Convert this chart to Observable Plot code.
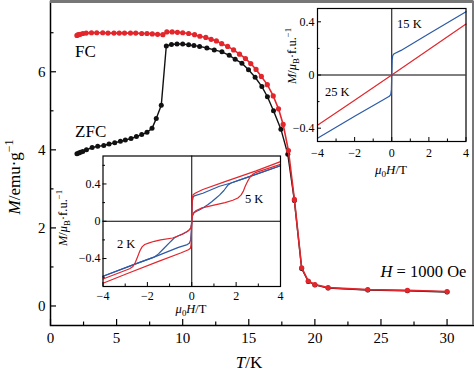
<!DOCTYPE html>
<html><head><meta charset="utf-8">
<script src="https://cdn.jsdelivr.net/npm/d3@7"></script>
<script src="https://cdn.jsdelivr.net/npm/@observablehq/plot@0.6"></script>
<style>
body{margin:0;background:#fff}
#wrap{position:relative;width:474px;height:372px;overflow:hidden;background:#fff}
#wrap svg{position:absolute;left:0;top:0}
</style></head><body><div id="wrap"></div>
<script>
// ---- Main chart data: M (emu/g) vs T (K), H = 1000 Oe
const FC_T = [2.0, 2.1, 2.25, 2.45, 2.7, 3.1, 3.5, 3.95, 4.35, 4.8, 5.2, 5.6, 6.05, 6.45, 6.9, 7.3, 7.7, 8.1, 8.5, 8.8, 9.2, 9.6, 10.0, 10.45, 10.9, 11.3, 11.75, 12.15, 12.55, 12.95, 13.4, 13.85, 14.3, 14.75, 15.15, 15.55, 15.95, 16.4, 16.85, 17.25, 17.6, 18.0, 18.45, 19.0, 19.5, 20.0, 21.0, 24.0, 27.0, 30.0];
const FC_M = [6.93, 6.95, 6.96, 6.98, 6.99, 7.0, 7.0, 7.0, 6.99, 6.99, 6.99, 6.99, 6.99, 6.99, 6.98, 6.98, 6.97, 6.96, 6.95, 7.02, 7.02, 7.01, 7.0, 6.98, 6.95, 6.91, 6.88, 6.83, 6.79, 6.72, 6.65, 6.56, 6.45, 6.34, 6.21, 6.06, 5.88, 5.67, 5.38, 5.05, 4.65, 3.98, 2.73, 0.98, 0.64, 0.55, 0.47, 0.42, 0.40, 0.37];
const ZFC_T = [2.0, 2.14, 2.27, 2.44, 2.72, 3.15, 3.57, 4.03, 4.43, 4.86, 5.29, 5.66, 6.09, 6.5, 6.9, 7.3, 7.68, 8.0, 8.38, 8.76, 9.15, 9.57, 10.0, 10.45, 10.85, 11.28, 11.83, 12.39, 12.97, 13.52, 13.97, 14.48, 14.98, 15.48, 15.99, 16.41, 16.87, 17.43, 17.95, 18.45, 19.0, 19.5, 20.0, 21.0, 24.0, 27.0, 30.0];
const ZFC_M = [3.90, 3.92, 3.94, 3.96, 4.0, 4.06, 4.09, 4.11, 4.15, 4.18, 4.22, 4.25, 4.29, 4.34, 4.39, 4.45, 4.55, 4.80, 5.14, 6.66, 6.70, 6.71, 6.71, 6.69, 6.67, 6.65, 6.61, 6.56, 6.51, 6.42, 6.32, 6.22, 6.05, 5.86, 5.62, 5.36, 5.0, 4.53, 3.89, 2.70, 0.96, 0.63, 0.54, 0.46, 0.41, 0.39, 0.36];
const mainXTicks = [0, 5, 10, 15, 20, 25, 30];
const mainXMinor = [2.5, 7.5, 12.5, 17.5, 22.5, 27.5];
const mainYTicks = [0, 2, 4, 6];
const mainYMinor = [1, 3, 5, 7];

// ---- Inset 1 (top right): 15 K and 25 K loops, M (muB/f.u.) vs mu0H (T)
const L15_H = [-4, -2, -0.5, -0.13, -0.05, -0.02, 0, 0.02, 0.05, 0.13, 0.5, 2, 4];
const L15_M = [-0.476, -0.31, -0.19, -0.16, -0.145, -0.11, 0, 0.11, 0.145, 0.16, 0.185, 0.31, 0.476];
const L25_H = [-4, -2, 0, 2, 4];
const L25_M = [-0.378, -0.19, 0, 0.192, 0.383];

// ---- Inset 2 (bottom left): 2 K (red) and 5 K (blue) hysteresis loops
const L2_DOWN_H = [4, 2.9, 1.5, 0.5, 0.15, 0.06, 0.03, 0.01, -0.01, -0.04, -0.1, -0.2, -0.42, -0.86, -1.4, -1.69, -1.95, -2.12, -2.24, -2.34, -2.44, -2.54, -2.65, -2.8, -4];
const L2_DOWN_M = [0.64, 0.54, 0.425, 0.34, 0.30, 0.285, 0.25, 0.1, -0.03, -0.07, -0.09, -0.11, -0.14, -0.18, -0.2, -0.215, -0.235, -0.25, -0.275, -0.32, -0.38, -0.44, -0.485, -0.51, -0.62];
const L2_UP_H = [-4, -2.9, -1.5, -0.5, -0.15, -0.06, -0.03, -0.01, 0.01, 0.04, 0.1, 0.2, 0.42, 0.95, 1.5, 1.85, 2.08, 2.22, 2.32, 2.42, 2.52, 2.62, 2.75, 2.9, 4];
const L2_UP_M = [-0.665, -0.56, -0.43, -0.34, -0.305, -0.29, -0.25, -0.1, 0.03, 0.07, 0.095, 0.115, 0.14, 0.17, 0.2, 0.225, 0.25, 0.28, 0.32, 0.38, 0.43, 0.47, 0.505, 0.525, 0.61];
const L5_DOWN_H = [4, 2.5, 1.77, 1.25, 0.5, 0.15, 0.07, 0.03, 0.01, -0.01, -0.04, -0.1, -0.2, -0.4, -0.6, -0.79, -1.0, -1.25, -1.5, -1.7, -2.5, -4];
const L5_DOWN_M = [0.595, 0.47, 0.41, 0.375, 0.30, 0.275, 0.265, 0.22, 0.1, -0.03, -0.07, -0.09, -0.11, -0.135, -0.155, -0.18, -0.23, -0.29, -0.35, -0.385, -0.455, -0.59];
const L5_UP_H = [-4, -2.5, -1.7, -0.6, -0.2, -0.11, -0.05, -0.02, 0, 0.02, 0.1, 0.2, 0.34, 0.55, 0.72, 0.9, 1.1, 1.25, 1.45, 1.62, 1.77, 2.5, 4];
const L5_UP_M = [-0.59, -0.455, -0.385, -0.28, -0.25, -0.235, -0.2, -0.1, 0, 0.05, 0.09, 0.105, 0.12, 0.15, 0.176, 0.21, 0.25, 0.28, 0.33, 0.385, 0.41, 0.47, 0.595];
const insetXTicks = [-4, -2, 0, 2, 4];
const insetXMinor = [-3, -1, 1, 3];
const inset1YTicks = [-0.4, 0, 0.4];
const inset1YMinor = [-0.2, 0.2];
const inset2YTicks = [-0.4, 0, 0.4];
const inset2YMinor = [-0.6, -0.2, 0.2, 0.6];

const RED = "#e2262c", BLUE = "#2c5aa6", BLACK = "#111";
const FONT = "'Liberation Serif','DejaVu Serif',serif";
const W = 474, H = 372;
const wrap = document.getElementById("wrap");

const rows = (xs, ys, extra = {}) => xs.map((x, i) => ({x, y: ys[i], ...extra}));
const fmt = d => (d < 0 ? "\u2212" : "") + Math.abs(d);

function tickMarks(xd, yd, pw, ph, xMaj, xMin, yMaj, yMin, lMaj, lMin, sw) {
  const ux = (xd[1] - xd[0]) / pw, uy = (yd[1] - yd[0]) / ph;
  const o = {stroke: "black", strokeWidth: sw};
  return [
    Plot.ruleX(xMaj, {x: d => d, y1: yd[0], y2: yd[0] + lMaj * uy, ...o}),
    Plot.ruleX(xMin, {x: d => d, y1: yd[0], y2: yd[0] + lMin * uy, ...o}),
    Plot.ruleY(yMaj, {y: d => d, x1: xd[0], x2: xd[0] + lMaj * ux, ...o}),
    Plot.ruleY(yMin, {y: d => d, x1: xd[0], x2: xd[0] + lMin * ux, ...o})
  ];
}

function scaler(m, xd, yd) {
  const pw = W - m.l - m.r, ph = H - m.t - m.b;
  return {
    x: v => m.l + (v - xd[0]) / (xd[1] - xd[0]) * pw,
    y: v => m.t + (yd[1] - v) / (yd[1] - yd[0]) * ph,
    pw, ph
  };
}

function rich(svg, parts, {x, y, size = 15, anchor = "start", rotate = 0}) {
  const t = svg.append("text")
    .attr("font-family", FONT).attr("font-size", size)
    .attr("text-anchor", anchor).attr("fill", "black")
    .attr("transform", `translate(${x},${y})` + (rotate ? ` rotate(${rotate})` : ""));
  let cur = 0;
  for (const [s, k = ""] of parts) {
    const sp = t.append("tspan").text(s);
    const flags = k.split(" ");
    let target = 0;
    if (flags.includes("sup")) target = -0.42 * size;
    if (flags.includes("sub")) target = 0.25 * size;
    if (target !== 0) sp.attr("font-size", size * 0.7);
    if (flags.includes("i")) sp.attr("font-style", "italic");
    if (target !== cur) { sp.attr("dy", target - cur); cur = target; }
  }
}

// ================= MAIN =================
const mM = {l: 50, r: 1, t: 1, b: 47};
const mX = [0, 32], mY = [-0.5, 7.8];
const ms = scaler(mM, mX, mY);
const fc = rows(FC_T, FC_M), zfc = rows(ZFC_T, ZFC_M);

const main = Plot.plot({
  width: W, height: H,
  marginLeft: mM.l, marginRight: mM.r, marginTop: mM.t, marginBottom: mM.b,
  style: {background: "transparent", fontFamily: FONT, fontSize: "15px", color: "black"},
  x: {domain: mX, ticks: mainXTicks, tickSize: 0, tickPadding: 6.5, label: null, tickFormat: fmt},
  y: {domain: mY, ticks: mainYTicks, tickSize: 0, tickPadding: 5, label: null, tickFormat: fmt},
  marks: [
    ...tickMarks(mX, mY, ms.pw, ms.ph, mainXTicks, mainXMinor, mainYTicks, mainYMinor, 6, 3.5, 1.2),
    Plot.frame({stroke: "black", strokeWidth: 1.5}),
    Plot.ruleY([mY[1]], {stroke: "#777", strokeWidth: 3}),
    Plot.ruleX([mX[1]], {stroke: "#777", strokeWidth: 3}),
    Plot.line(zfc, {x: "x", y: "y", stroke: BLACK, strokeWidth: 1.4}),
    Plot.dot(zfc, {x: "x", y: "y", r: 2.5, fill: BLACK}),
    Plot.line(fc, {x: "x", y: "y", stroke: RED, strokeWidth: 1.6}),
    Plot.dot(fc, {x: "x", y: "y", r: 2.6, fill: RED})
  ]
});
wrap.appendChild(main);
const msvg = d3.select(main);
rich(msvg, [["FC"]], {x: ms.x(1.9), y: ms.y(6.37), size: 17});
rich(msvg, [["ZFC"]], {x: ms.x(1.9), y: ms.y(4.32), size: 17});
rich(msvg, [["H", "i"], [" = 1000 Oe"]], {x: ms.x(31.5), y: ms.y(0.73), size: 16.5, anchor: "end"});
rich(msvg, [["T", "i"], ["/K"]], {x: 249, y: 368, size: 17, anchor: "middle"});
rich(msvg, [["M", "i"], ["/emu\u00b7g"], ["\u22121", "sup"]], {x: 20, y: 177, size: 17, anchor: "middle", rotate: -90});

// ================= INSET 1 (top right) =================
const i1M = {l: 317, r: 8.5, t: 8, b: 231};
const i1X = [-4, 4], i1Y = [-0.5, 0.5];
const s1 = scaler(i1M, i1X, i1Y);
const inset1 = Plot.plot({
  width: W, height: H,
  marginLeft: i1M.l, marginRight: i1M.r, marginTop: i1M.t, marginBottom: i1M.b,
  style: {background: "transparent", fontFamily: FONT, fontSize: "12px", color: "black"},
  x: {domain: i1X, ticks: insetXTicks, tickSize: 0, tickPadding: 6.5, label: null, tickFormat: fmt},
  y: {domain: i1Y, ticks: inset1YTicks, tickSize: 0, tickPadding: 3, label: null, tickFormat: fmt},
  marks: [
    Plot.frame({fill: "white"}),
    ...tickMarks(i1X, i1Y, s1.pw, s1.ph, insetXTicks, insetXMinor, inset1YTicks, inset1YMinor, 4, 2.5, 1),
    Plot.ruleX([0], {stroke: "black", strokeWidth: 1}),
    Plot.ruleY([0], {stroke: "black", strokeWidth: 1}),
    Plot.line(rows(L25_H, L25_M), {x: "x", y: "y", stroke: RED, strokeWidth: 1.2}),
    Plot.line(rows(L15_H, L15_M), {x: "x", y: "y", stroke: BLUE, strokeWidth: 1.2}),
    Plot.frame({stroke: "black", strokeWidth: 1.2})
  ]
});
wrap.appendChild(inset1);
const i1svg = d3.select(inset1);
rich(i1svg, [["15 K"]], {x: s1.x(0.31), y: s1.y(0.35), size: 12.5});
rich(i1svg, [["25 K"]], {x: s1.x(-3.57), y: s1.y(-0.16), size: 12.5});
rich(i1svg, [["\u03bc", "i"], ["0", "sub"], ["H", "i"], ["/T"]], {x: 391, y: 174, size: 13, anchor: "middle"});
rich(i1svg, [["M", "i"], ["/"], ["\u03bc", "i"], ["B", "sub"], ["\u00b7f.u."], ["\u22121", "sup"]], {x: 296, y: 56, size: 12.5, anchor: "middle", rotate: -90});

// ================= INSET 2 (bottom left) =================
const i2M = {l: 102.5, r: 194, t: 155.5, b: 86};
const i2X = [-4, 4], i2Y = [-0.7, 0.7];
const s2 = scaler(i2M, i2X, i2Y);
const loops = [
  ...rows(L2_DOWN_H, L2_DOWN_M, {k: "2d"}), ...rows(L2_UP_H, L2_UP_M, {k: "2u"})
];
const loops5 = [
  ...rows(L5_DOWN_H, L5_DOWN_M, {k: "5d"}), ...rows(L5_UP_H, L5_UP_M, {k: "5u"})
];
const inset2 = Plot.plot({
  width: W, height: H,
  marginLeft: i2M.l, marginRight: i2M.r, marginTop: i2M.t, marginBottom: i2M.b,
  style: {background: "transparent", fontFamily: FONT, fontSize: "12px", color: "black"},
  x: {domain: i2X, ticks: insetXTicks, tickSize: 0, tickPadding: 4.5, label: null, tickFormat: fmt},
  y: {domain: i2Y, ticks: inset2YTicks, tickSize: 0, tickPadding: 2.5, label: null, tickFormat: fmt},
  marks: [
    Plot.frame({fill: "white"}),
    ...tickMarks(i2X, i2Y, s2.pw, s2.ph, insetXTicks, insetXMinor, inset2YTicks, inset2YMinor, 4, 2.5, 1),
    Plot.ruleX([0], {stroke: "black", strokeWidth: 1}),
    Plot.ruleY([0], {stroke: "black", strokeWidth: 1}),
    Plot.line(loops5, {x: "x", y: "y", z: "k", stroke: BLUE, strokeWidth: 1.2}),
    Plot.line(loops, {x: "x", y: "y", z: "k", stroke: RED, strokeWidth: 1.2}),
    Plot.frame({stroke: "black", strokeWidth: 1.2})
  ]
});
wrap.appendChild(inset2);
const i2svg = d3.select(inset2);
rich(i2svg, [["5 K"]], {x: s2.x(2.42), y: s2.y(0.19), size: 12.5});
rich(i2svg, [["2 K"]], {x: s2.x(-3.35), y: s2.y(-0.29), size: 12.5});
rich(i2svg, [["\u03bc", "i"], ["0", "sub"], ["H", "i"], ["/T"]], {x: 191, y: 313, size: 12.5, anchor: "middle"});
rich(i2svg, [["M", "i"], ["/"], ["\u03bc", "i"], ["B", "sub"], ["\u00b7f.u."], ["\u22121", "sup"]], {x: 67, y: 218, size: 12.5, anchor: "middle", rotate: -90});
</script></body></html>
